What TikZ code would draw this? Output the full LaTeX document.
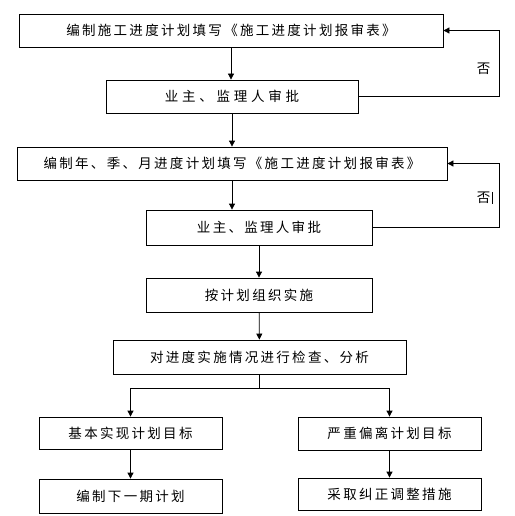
\documentclass[tikz,border=0pt]{standalone}
\usepackage{fontspec}
\setmainfont{Noto Sans CJK SC}
\newfontfamily\spacedcjk{Noto Sans CJK SC}[LetterSpace=17]
\usepackage{tikz}
\usetikzlibrary{arrows.meta}

\begin{document}
\begin{tikzpicture}[x=1pt,y=-1pt,
  proc/.style={draw,line width=0.8pt,minimum height=33pt,inner sep=0pt,
    font=\spacedcjk\fontsize{13.5}{16}\selectfont},
  arr/.style={line width=0.8pt,-{Triangle[length=6pt,width=6pt]}},
  nolabel/.style={inner sep=0pt,font=\fontsize{13.5}{16}\selectfont}]
  \useasboundingbox (0,0) rectangle (514,516);
  % main chain
  \node[proc,minimum width=424pt] (plan) at (231,30.5) {编制施工进度计划填写《施工进度计划报审表》};
  \node[proc,minimum width=252pt] (approve1) at (232,96.5) {\addfontfeature{LetterSpace=28}业主、监理人审批};
  \node[proc,minimum width=430pt] (yearplan) at (232,163.5) {编制年、季、月进度计划填写《施工进度计划报审表》};
  \node[proc,minimum width=226pt,minimum height=35pt] (approve2) at (259,227.5) {业主、监理人审批};
  \node[proc,minimum width=226pt,minimum height=34pt] (execute) at (259,295) {按计划组织实施};
  \node[proc,minimum width=293pt,minimum height=34pt] (inspect) at (259.5,357) {对进度实施情况进行检查、分析};
  \node[proc,minimum width=183pt,minimum height=32pt] (ongoal) at (130.5,433) {基本实现计划目标};
  \node[proc,minimum width=183pt] (offgoal) at (389.5,433.5) {严重偏离计划目标};
  \node[proc,minimum width=183pt,minimum height=34pt] (nextplan) at (130.5,496) {编制下一期计划};
  \node[proc,minimum width=183pt,minimum height=32pt] (correct) at (389.5,494) {采取纠正调整措施};
  \draw[arr] (plan.south) -- (plan.south |- approve1.north);
  \draw[arr] (yearplan.south) -- (yearplan.south |- approve2.north);
  \draw[arr] (approve1.south) -- (approve1.south |- yearplan.north);
  \draw[arr] (approve2) -- (execute);
  \draw[arr] (execute) -- (inspect);
  % fork to the two outcomes
  \coordinate (fork) at (259.5,388);
  \draw[line width=0.8pt] (inspect.south) -- (fork);
  \draw[arr] (fork) -| (ongoal.north);
  \draw[arr] (fork) -| (offgoal.north);
  \draw[arr] (ongoal) -- (nextplan);
  \draw[arr] (offgoal.south) -- (offgoal.south |- correct.north);
  % rejected -> back
  \draw[arr] (approve1.east) -- ++(141,0) |- (plan.east);
  \draw[arr] (approve2.east) -- ++(127,0) |- (yearplan.east);
  \node[nolabel] (no1) at (483.5,69) {否};
  \node[nolabel] (no2) at (483.5,198) {否};
  \draw[line width=0.8pt] ([xshift=2pt]no2.north east) -- ([xshift=2pt]no2.south east);
\end{tikzpicture}
\end{document}
